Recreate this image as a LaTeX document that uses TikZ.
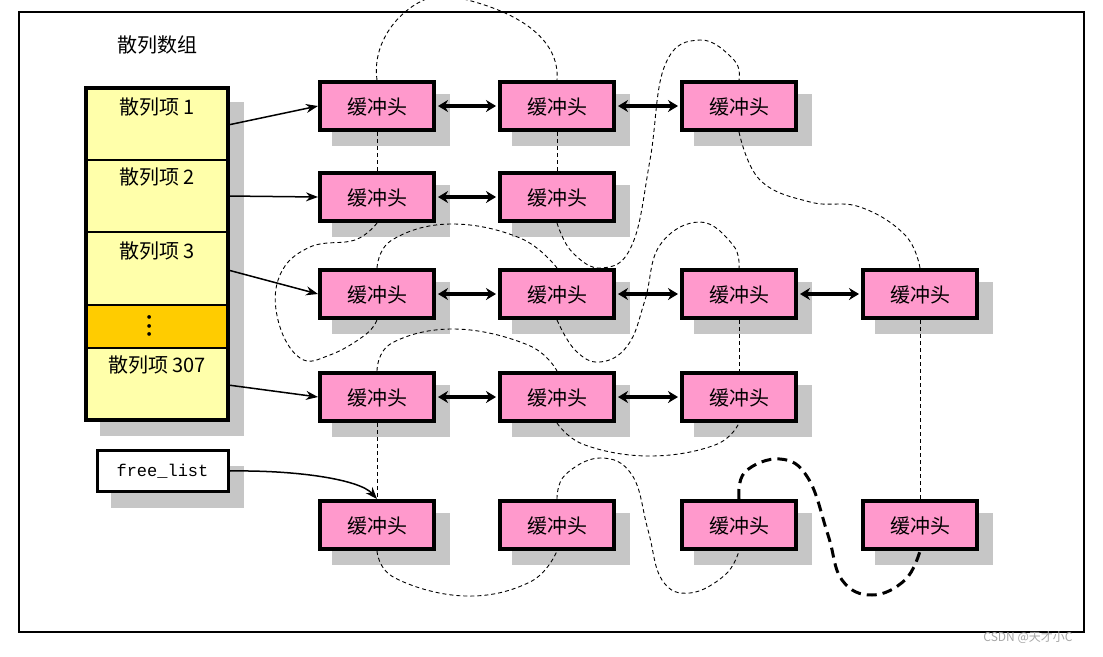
\documentclass[tikz,border=0pt]{standalone}
\usepackage{fontspec}
\newfontfamily\cjk{Noto Sans CJK SC}
\newfontfamily\mono{Liberation Mono}
\usetikzlibrary{arrows.meta}
\pgfdeclarelayer{shad}\pgfdeclarelayer{curves}
\pgfsetlayers{shad,curves,main}
\definecolor{pinkbox}{RGB}{255,153,204}
\definecolor{yel}{RGB}{255,255,170}
\definecolor{org}{RGB}{255,204,0}
\begin{document}
\begin{tikzpicture}[x=1pt,y=-1pt,
  buf/.style={draw,line width=4pt,fill=pinkbox,minimum width=114pt,minimum height=48pt,inner sep=0pt,font=\cjk\fontsize{20}{20}\selectfont,text depth=0pt},
  dl/.style={dash pattern=on 4pt off 3pt,line width=0.9pt},
  dbl/.style={{Stealth[length=10pt,width=12pt]}-{Stealth[length=10pt,width=12pt]},line width=3.2pt,shorten <=2pt,shorten >=2pt},
  ptr/.style={-{Stealth[length=12pt,width=9pt]},line width=1.5pt},
  sh/.style={fill=gray!45}]
\useasboundingbox (0,0) rectangle (1103,656);
\draw[line width=2.8pt] (19,12) rectangle (1084,632);
\node[font=\cjk\fontsize{12}{12}\selectfont,text=gray!70] (wm) at (1028,637) {CSDN @天才小C};
\node[font=\cjk\fontsize{20}{20}\selectfont] (title) at (157,45) {散列数组};
% hash table
\begin{pgfonlayer}{shad}\fill[sh] (100,102) rectangle (244,436);\end{pgfonlayer}
\fill[yel] (86,88) rectangle (228,420);
\fill[org] (86,305) rectangle (228,348);
\draw[line width=1.4pt] (86,160)--(228,160) (86,232)--(228,232) (86,305)--(228,305) (86,348)--(228,348);
\draw[line width=3.2pt] (86,88) rectangle (228,420);
\tikzset{ht/.style={font=\cjk\fontsize{20}{20}\selectfont}}
\node[ht] (h1) at (157,107) {散列项 1};
\node[ht] (h2) at (157,177) {散列项 2};
\node[ht] (h3) at (157,251) {散列项 3};
\node[font=\bfseries\fontsize{26}{26}\selectfont] (hd) at (150,326) {\rotatebox{90}{...}};
\node[ht] (h4) at (157,365) {散列项 307};
\coordinate (a1) at (228,125);\coordinate (a2) at (228,196);\coordinate (a3) at (228,270);\coordinate (a4) at (228,385);
% free list
\begin{pgfonlayer}{shad}\fill[sh] (111,466) rectangle (244,508);\end{pgfonlayer}
\node[draw,line width=3pt,fill=white,minimum width=131pt,minimum height=41pt,inner sep=0pt,font=\mono\fontsize{17}{17}\selectfont] (fl) at (162.5,471) {free\_list};
% buffers
\foreach \r/\y in {1/106,2/197,3/294,4/397,5/525}{
 \foreach \c/\x in {1/377,2/557,3/739,4/920}{
  \coordinate (p\r\c) at (\x,\y);}}
\foreach \n in {11,12,13,21,22,31,32,33,34,41,42,43,51,52,53,54}{
  \node[buf] (b\n) at (p\n) {缓冲头};
  \begin{pgfonlayer}{shad}\fill[sh] ([shift={(14,14)}]b\n.north west) rectangle ([shift={(14,14)}]b\n.south east);\end{pgfonlayer}
}
\draw[dbl] (b11)--(b12); \draw[dbl] (b12)--(b13);
\draw[dbl] (b21)--(b22);
\draw[dbl] (b31)--(b32); \draw[dbl] (b32)--(b33); \draw[dbl] (b33)--(b34);
\draw[dbl] (b41)--(b42); \draw[dbl] (b42)--(b43);
\draw[ptr] (a1)--(b11.west);
\draw[ptr] (a2)--(b21.west);
\draw[ptr] (a3)--(b31.west);
\draw[ptr] (a4)--(b41.west);
\draw[ptr] (fl.east) .. controls (300,470) and (360,480) .. (b51.north);
\begin{pgfonlayer}{curves}
\draw[dl] (b11.north) .. controls (370,30) and (420,-10) .. (450,-4) .. controls (520,10) and (560,40) .. (b12.north);
\draw[dl] (b11.south)--(b21.north);
\draw[dl] (b12.south)--(b22.north);
\draw[dl] plot[smooth,tension=0.7] coordinates {(b22.south) (572,252) (602,268) (632,245) (650,160) (665,65) (700,40) (734,60) (b13.north)};
\draw[dl] plot[smooth,tension=0.7] coordinates {(b13.south) (760,180) (810,202) (860,207) (905,235) (b34.north)};
\draw[dl] plot[smooth,tension=0.7] coordinates {(b21.south) (355,240) (310,247) (280,275) (278,320) (300,358) (330,355) (365,335) (b31.south)};
\draw[dl] plot[smooth,tension=0.7] coordinates {(b31.north) (392,240) (450,224) (520,238) (b32.north)};
\draw[dl] plot[smooth,tension=0.7] coordinates {(b32.south) (575,350) (600,362) (628,345) (645,300) (660,245) (700,222) (733,245) (b33.north)};
\draw[dl] (b33.south)--(b43.north);
\draw[dl] plot[smooth,tension=0.7] coordinates {(b41.north) (392,343) (455,329) (528,345) (b42.north)};
\draw[dl] (b41.south)--(b51.north);
\draw[dl] (b34.south)--(b54.north);
\draw[dl] plot[smooth,tension=0.7] coordinates {(b42.south) (585,445) (650,456) (715,445) (b43.south)};
\draw[dl] plot[smooth,tension=0.7] coordinates {(b52.north) (565,475) (600,458) (632,475) (648,530) (662,580) (690,593) (725,575) (b53.south)};
\draw[dl] plot[smooth,tension=0.7] coordinates {(b51.south) (395,578) (465,596) (530,582) (b52.south)};
\draw[dash pattern=on 10pt off 6pt,line width=3pt] plot[smooth,tension=0.7] coordinates {(b53.north) (745,472) (780,459) (808,478) (828,535) (842,580) (872,595) (905,580) (b54.south)};
\end{pgfonlayer}
\end{tikzpicture}
\end{document}
